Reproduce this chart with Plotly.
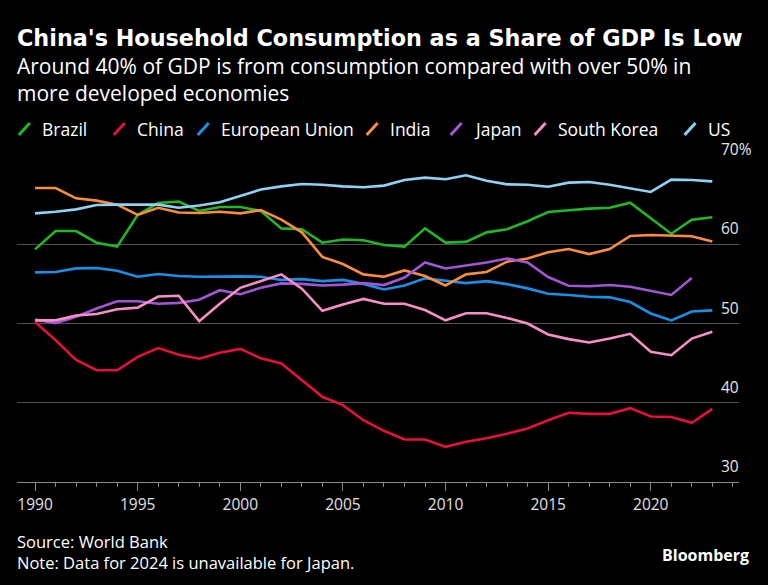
import plotly.graph_objects as go

years = list(range(1990, 2024))

brazil = [59.35, 61.67, 61.67, 60.2, 59.7, 63.7, 65.2, 65.4, 64.2, 64.7, 64.7,
          64.2, 62.0, 61.9, 60.2, 60.6, 60.5, 59.9, 59.7, 62.0, 60.2, 60.3, 61.5,
          61.9, 62.9, 64.07, 64.3, 64.5, 64.6, 65.24, 63.27, 61.33, 63.1, 63.4]
china = [50.2, 47.9, 45.4, 44.1, 44.1, 45.8, 46.9, 46.05, 45.55, 46.3, 46.8,
         45.6, 44.96, 42.85, 40.75, 39.7, 37.8, 36.46, 35.36, 35.36, 34.44, 35.07,
         35.53, 36.1, 36.75, 37.8, 38.73, 38.6, 38.6, 39.32, 38.27, 38.2, 37.47, 39.23]
eu = [56.45, 56.5, 56.95, 57.0, 56.66, 55.9, 56.24, 56.0, 55.9, 55.95, 55.95,
      55.9, 55.5, 55.6, 55.35, 55.5, 55.0, 54.3, 54.8, 55.7, 55.4, 55.1, 55.35,
      54.97, 54.43, 53.75, 53.6, 53.38, 53.3, 52.7, 51.27, 50.39, 51.52, 51.65]
india = [67.1, 67.1, 65.8, 65.5, 65.0, 63.7, 64.6, 64.0, 63.95, 64.1, 63.9,
         64.3, 63.1, 61.5, 58.4, 57.5, 56.2, 55.9, 56.7, 56.0, 54.8, 56.2, 56.5,
         57.8, 58.2, 59.0, 59.4, 58.76, 59.4, 61.04, 61.16, 61.04, 61.0, 60.36]
japan = [50.5, 50.05, 50.85, 51.9, 52.8, 52.8, 52.5, 52.6, 53.0, 54.2, 53.7,
         54.5, 55.06, 55.0, 54.8, 54.9, 55.1, 54.85, 55.8, 57.7, 56.95, 57.3, 57.7,
         58.2, 57.7, 55.86, 54.76, 54.7, 54.85, 54.64, 54.13, 53.6, 55.73, None]
south_korea = [50.4, 50.4, 51.0, 51.2, 51.8, 52.0, 53.4, 53.5, 50.3, 52.5, 54.5,
               55.4, 56.2, 54.4, 51.6, 52.4, 53.1, 52.5, 52.5, 51.7, 50.4, 51.3, 51.3,
               50.7, 50.0, 48.62, 48.03, 47.6, 48.1, 48.7, 46.43, 46.0, 48.1, 48.96]
us = [63.9, 64.1, 64.4, 64.95, 65.0, 65.0, 65.0, 64.6, 64.9, 65.3, 66.1,
      66.9, 67.3, 67.6, 67.5, 67.3, 67.2, 67.4, 68.1, 68.4, 68.2, 68.7, 68.0,
      67.56, 67.5, 67.26, 67.77, 67.85, 67.5, 67.05, 66.6, 68.15, 68.1, 67.94]

names = ["Brazil", "China", "European Union", "India", "Japan", "South Korea", "US"]
series = [brazil, china, eu, india, japan, south_korea, us]
colors = ["#22b727", "#e5103c", "#1a8fe6", "#fb8d3d", "#a256d5", "#f58fc6", "#8fd2f4"]

y_ticks = [30, 40, 50, 60, 70]
y_tick_text = ["30", "40", "50", "60", "70%"]
x_ticks = [1990, 1995, 2000, 2005, 2010, 2015, 2020]

# layout geometry (pixels)
W, H = 768, 585
L, R = 16.7, 739.0
T, B = 165.0, 481.7
PW, PH = R - L, B - T

def px(xp):
    return (xp - L) / PW

def py(yp):
    return (B - yp) / PH

FONT = "Open Sans"
TITLE_FONT = "DejaVu Sans"

fig = go.Figure()
for n, s, c in zip(names, series, colors):
    fig.add_trace(go.Scatter(x=years, y=s, name=n, mode="lines",
                             line=dict(color=c, width=2.6), showlegend=False,
                             connectgaps=False))

annotations = []
shapes = []

# title & subtitle
annotations.append(dict(text="<b>China's Household Consumption as a Share of GDP Is Low</b>",
                        xref="paper", yref="paper", x=px(15), y=py(38.5), xanchor="left",
                        yanchor="middle", showarrow=False,
                        font=dict(family=TITLE_FONT, size=22.3, color="#ffffff")))
annotations.append(dict(text="Around 40% of GDP is from consumption compared with over 50% in"
                             "<br>more developed economies",
                        xref="paper", yref="paper", x=px(15), y=py(79.5), xanchor="left",
                        yanchor="middle", align="left", showarrow=False,
                        font=dict(family=FONT, size=21, color="#ffffff")))

# legend
legend_x = [18, 113, 197, 366, 450, 534, 684]
for n, c, lx in zip(names, colors, legend_x):
    shapes.append(dict(type="line", xref="paper", yref="paper",
                       x0=px(lx + 0.5), y0=py(135), x1=px(lx + 11.5), y1=py(123),
                       line=dict(color=c, width=3)))
    annotations.append(dict(text=n, xref="paper", yref="paper", x=px(lx + 22), y=py(129.5),
                            xanchor="left", yanchor="middle", showarrow=False,
                            font=dict(family=FONT, size=17.5, color="#ffffff")))

# y tick labels
for v, t in zip(y_ticks, y_tick_text):
    annotations.append(dict(text=t, xref="paper", yref="y", x=px(719), y=v,
                            xanchor="left", yanchor="bottom", yshift=3, showarrow=False,
                            font=dict(family=FONT, size=15.5, color="#e6e6e6")))

# footer
annotations.append(dict(text="Source: World Bank<br>Note: Data for 2024 is unavailable for Japan.",
                        xref="paper", yref="paper", x=px(15), y=py(551.5), xanchor="left",
                        yanchor="middle", align="left", showarrow=False,
                        font=dict(family=FONT, size=16.5, color="#ffffff")))
annotations.append(dict(text="<b>Bloomberg</b>", xref="paper", yref="paper",
                        x=px(751), y=py(555), xanchor="right", yanchor="middle",
                        showarrow=False, font=dict(family=FONT, size=16, color="#ffffff")))

fig.update_layout(
    width=W, height=H,
    paper_bgcolor="#000000", plot_bgcolor="#000000",
    margin=dict(l=L, r=W - R, t=T, b=H - B, pad=0),
    showlegend=False,
    annotations=annotations, shapes=shapes,
    xaxis=dict(range=[1989.12, 2024.3], tickvals=x_ticks, showgrid=False,
               showline=True, linecolor="#8a8a8a", linewidth=1,
               ticks="outside", ticklen=8, tickcolor="#8a8a8a", tickwidth=1,
               minor=dict(dtick=1, tick0=1990, ticks="outside", ticklen=4,
                          tickcolor="#8a8a8a", tickwidth=1),
               tickfont=dict(family=FONT, size=15.5, color="#e0e0e0"),
               zeroline=False, fixedrange=True),
    yaxis=dict(range=[30, 70], tickvals=y_ticks, showticklabels=False,
               showgrid=True, gridcolor="#505050", gridwidth=1.3,
               zeroline=False, showline=False, fixedrange=True),
)

fig.write_html("out.html")
